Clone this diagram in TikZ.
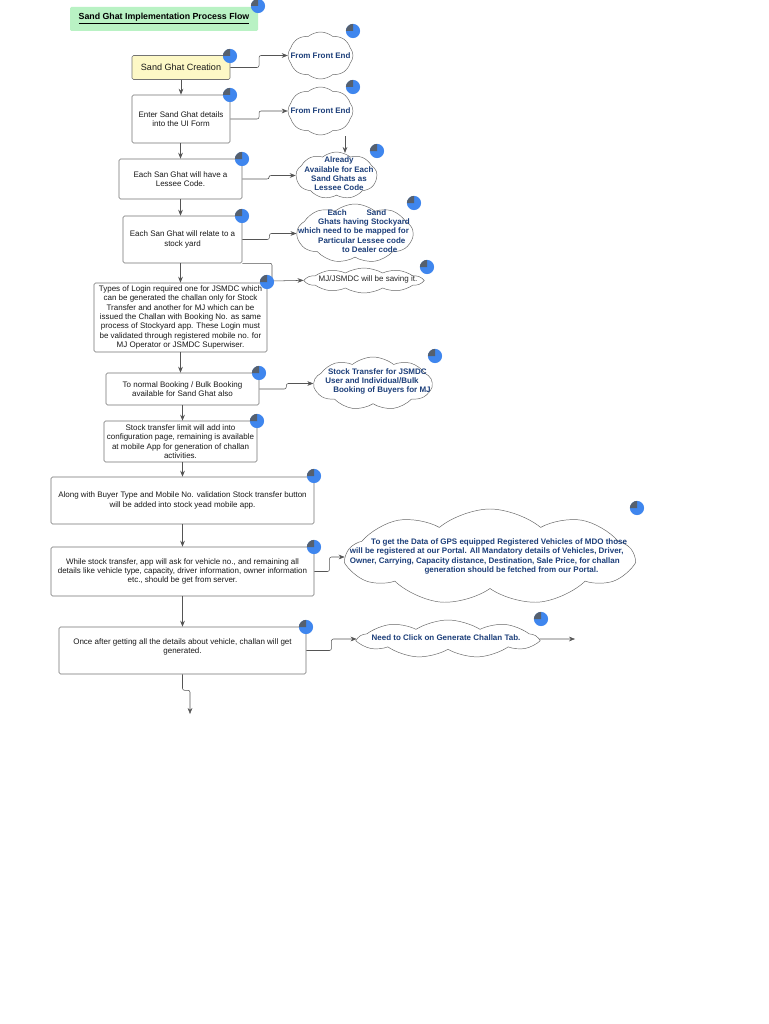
\documentclass[tikz,border=0pt]{standalone}
\usepackage{fontspec}
\setmainfont{Liberation Sans}
\usetikzlibrary{calc,shapes.symbols,arrows.meta}
\definecolor{titlegreen}{HTML}{B9F2C4}
\definecolor{startyellow}{HTML}{FDF8C6}
\definecolor{badgeblue}{HTML}{3F86EE}
\definecolor{badgegrey}{HTML}{56606E}
\definecolor{cloudblue}{HTML}{1D3F7A}
\definecolor{linegrey}{HTML}{555555}
\tikzset{
	boxsize/.style 2 args={minimum width=#1*0.75pt,minimum height=#2*0.75pt},
	flowbox/.style={draw=black!55,fill=white,rounded corners=1.2pt,line width=0.4pt,align=center,inner sep=0pt,font=\fontsize{6}{7}\selectfont,text=black!90},
	cloudbox/.style={cloud,cloud puffs=9,cloud puff arc=80,cloud ignores aspect,draw=black!60,fill=white,line width=0.35pt,inner sep=0pt},
	cloudtext/.style={align=left,inner sep=0pt,font=\fontsize{6}{7}\bfseries\selectfont,text=cloudblue},
	link/.style={-{Stealth[length=4.5pt,width=3.5pt]},draw=linegrey,line width=0.4pt,rounded corners=1.5pt},
	flow/.style={-{Stealth[length=4.5pt,width=3.5pt]},draw=linegrey,line width=0.6pt}
}
\begin{document}
\begin{tikzpicture}[x=0.75pt,y=-0.75pt]
	\useasboundingbox (0,0) rectangle (768,1024);
	\fill[white] (0,0) rectangle (768,1024);
	% title
	\node[fill=titlegreen,rounded corners=1pt,boxsize={188}{24},inner sep=0pt,font=\fontsize{6.6}{7}\bfseries\selectfont] (title) at (164,19) {\raisebox{-1pt}{\underline{Sand Ghat Implementation Process Flow}}};
	% main boxes
	\node[flowbox,boxsize={98}{24},fill=startyellow,font=\fontsize{6.8}{8}\selectfont] (creation) at (181,67.5) {Sand Ghat Creation};
	\node[flowbox,boxsize={98}{48}] (enter) at (181,119) {Enter Sand Ghat details\\into the UI Form};
	\node[flowbox,boxsize={123}{40}] (lessee) at (180.5,179) {Each San Ghat will have a\\Lessee Code.};
	\node[flowbox,boxsize={119}{47}] (yard) at (182.5,239.5) {Each San Ghat will relate to a\\stock yard};
	\node[flowbox,boxsize={173}{69}] (login) at (180.5,317.5) {Types of Login required one for JSMDC which\\can be generated the challan only for Stock\\Transfer and another for MJ which can be\\issued the Challan with Booking No. as same\\process of Stockyard app. These Login must\\be validated through registered mobile no. for\\MJ Operator or JSMDC Superwiser.};
	\node[flowbox,boxsize={153}{32}] (booking) at (182.5,389) {To normal Booking / Bulk Booking\\available for Sand Ghat also};
	\node[flowbox,boxsize={153}{41}] (limit) at (180.5,441.5) {Stock transfer limit will add into\\configuration page, remaining is available\\at mobile App for generation of challan\\activities.};
	\node[flowbox,boxsize={263}{47}] (along) at (182.5,500.5) {Along with Buyer Type and Mobile No. validation Stock transfer button\\will be added into stock yead mobile app.};
	\node[flowbox,boxsize={263}{49}] (while) at (182.5,571.5) {While stock transfer, app will ask for vehicle no., and remaining all\\details like vehicle type, capacity, driver information, owner information\\etc., should be get from server.};
	\node[flowbox,boxsize={247}{47}] (once) at (182.5,650.5) {Once after getting all the details about vehicle, challan will get\\generated.\\};
	% clouds
	\node[cloudbox,boxsize={65}{47},cloud puffs=8] (frontA) at (320.5,55.5) {};
	\node[cloudbox,boxsize={65}{48},cloud puffs=8] (frontB) at (320.5,111) {};
	\node[cloudbox,boxsize={81}{47}] (avail) at (336.5,175.5) {};
	\node[cloudbox,boxsize={116}{59}] (mapped) at (355,233.5) {};
	\node[cloudbox,boxsize={116}{25},cloud puffs=10,cloud puff arc=60] (saving) at (364,280.5) {};
	\node[cloudbox,boxsize={118}{53}] (buyers) at (373,383.5) {};
	\node[cloudbox,boxsize={286}{96}] (portal) at (490,557) {};
	\node[cloudbox,boxsize={178}{38},cloud puff arc=65] (generate) at (448,639) {};
	% cloud texts
	\node[cloudtext] (frontAtext) at (frontA) {From Front End};
	\node[cloudtext] (frontBtext) at (frontB) {From Front End};
	\node[cloudtext,align=center] (availtext) at (339,174) {Already\\Available for Each\\Sand Ghats as\\Lessee Code};
	\node[cloudtext] (mappedtext) at (354,231) {\hspace*{22pt}Each\hspace{15pt}Sand\\\hspace*{15pt}Ghats having Stockyard\\which need to be mapped for\\\hspace*{15pt}Particular Lessee code\\\hspace*{33pt}to Dealer code};
	\node[cloudtext,text=black!85,font=\fontsize{6}{7}\selectfont] (savingtext) at (368,279) {MJ/JSMDC will be saving it.};
	\node[cloudtext] (buyerstext) at (378,381.5) {\hspace*{2pt}Stock Transfer for JSMDC\\User and Individual/Bulk\\\hspace*{6pt}Booking of Buyers for MJ};
	\node[cloudtext] (portaltext) at (488.5,556.5) {\hspace*{16pt}To get the Data of GPS equipped Registered Vehicles of MDO those\\will be registered at our Portal. All Mandatory details of Vehicles, Driver,\\Owner, Carrying, Capacity distance, Destination, Sale Price, for challan\\\hspace*{56pt}generation should be fetched from our Portal.};
	\node[cloudtext] (generatetext) at (446,637.5) {Need to Click on Generate Challan Tab.};
	% free ends
	\coordinate (turn) at (272,281);
	\coordinate (frontBfoot) at (345,136);
	\coordinate (availtop) at (345,153);
	\coordinate (genend) at (575,639);
	\coordinate (endflow) at (190,714);
	% connectors
	\foreach \a/\b in {creation/enter,enter/lessee,yard/login,limit/along,along/while,while/once}
		\draw[flow] (\a.south -| \b) -- (\b.north);
	\draw[link] (lessee.south) -- (yard.north -| lessee.south);
	\draw[link] (login.south) -- (booking.north -| login.south);
	\draw[flow] (booking.south) -- (limit.north -| booking.south);
	\foreach \a/\b in {creation/frontA,enter/frontB,lessee/avail,yard/mapped,booking/buyers,while/portal,once/generate}
		\draw[link] (\a.east) -- ($(\a.east)!0.5!(\b.west |- \a.east)$) |- (\b.west);
	\draw[link] (yard.south east) -| (turn) -- (saving.west);
	\draw[flow] (frontBfoot) -- (availtop);
	\draw[link] (generate.east) -- (genend);
	\draw[link] (once.south) -- ++(0,16) -| (endflow);
	% badges
	\foreach \x/\y in {258/6,353/31,230/56,230/95,353/87,377/151,242/159,242/216,414/203,267/282,427/267,259/373,435/356,257/421,314/476,314/547,637/508,306/627,541/619}{
		\fill[badgeblue] (\x,\y) circle (5.3pt);
		\fill[badgegrey] (\x,\y) -- ++(-5.3pt,0pt) arc (180:90:5.3pt) -- cycle;
	}
\end{tikzpicture}
\end{document}
